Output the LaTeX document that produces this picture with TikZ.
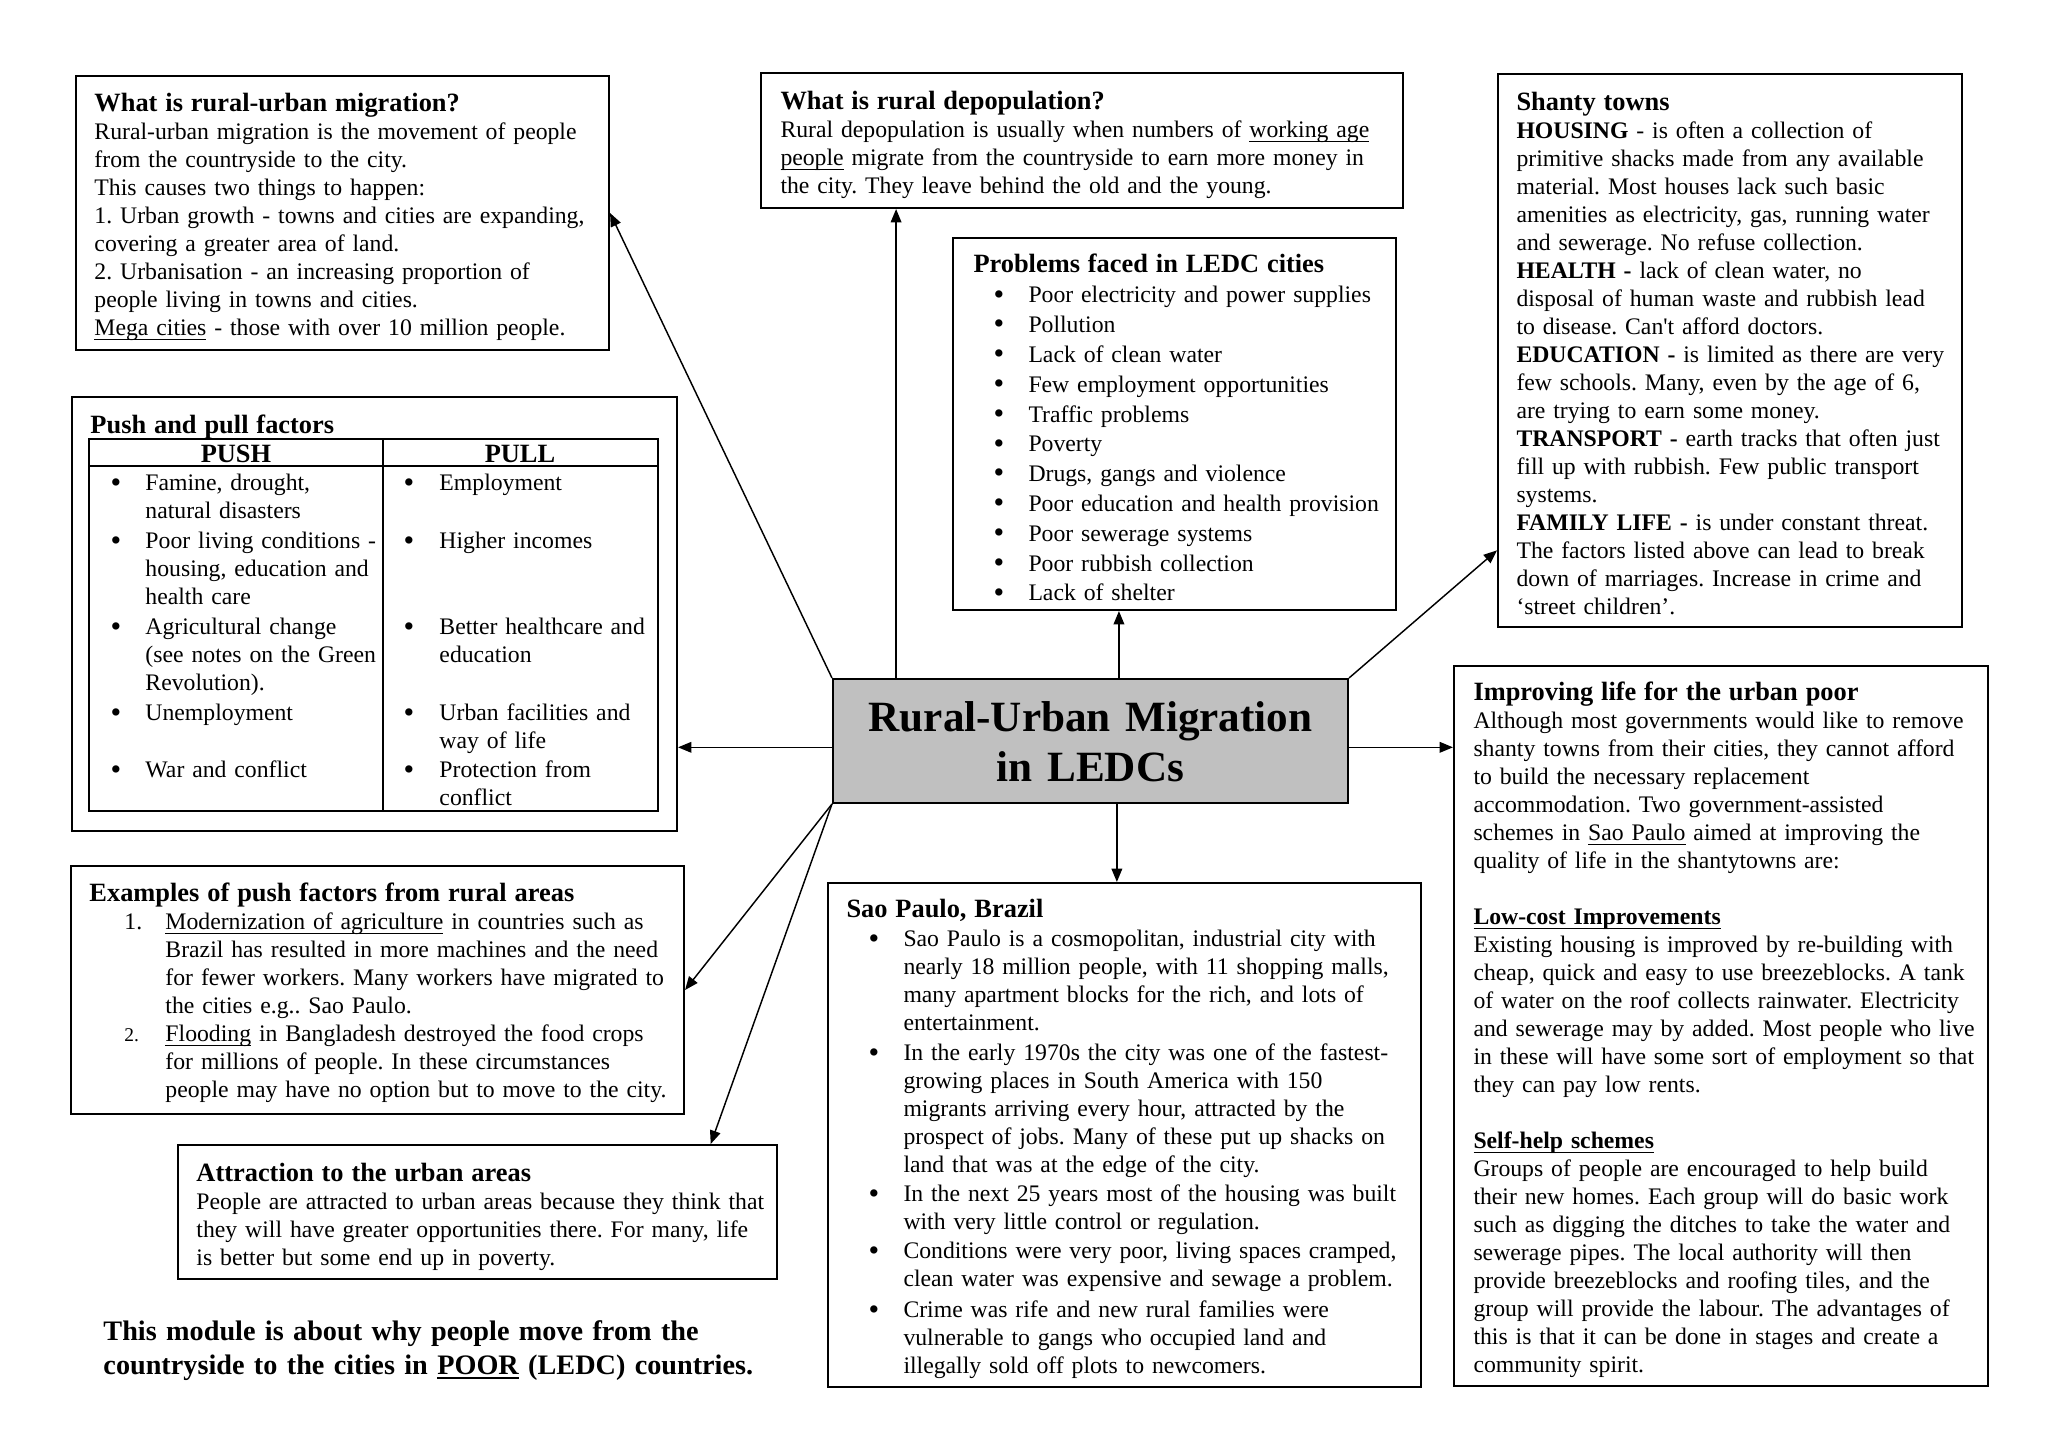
\documentclass[tikz,border=0pt]{standalone}
\usepackage{fontspec}
\setmainfont{Liberation Serif}
\usetikzlibrary{arrows.meta, calc, fit, positioning}
\definecolor{hubgray}{RGB}{192,192,192}
\frenchspacing
\newcommand\bodyfont{\fontsize{9.75}{11.51}\selectfont}
\newcommand\hdfont{\fontsize{10.85}{11.51}\selectfont\bfseries}
\newcommand\uln[2][0.45pt]{\leavevmode\begingroup\setbox0\hbox{#2}\rlap{\rule[-1.6pt]{\wd0}{#1}}\box0\endgroup}
\newcommand\blt{\raisebox{-0.5pt}{\fontsize{12.5}{12.5}\selectfont\textbullet}}

\begin{document}
\begin{tikzpicture}[x=0.41113pt, y=-0.41113pt, >={Triangle[length=5.5pt,width=4.4pt]},
  card/.style={draw, line width=0.85pt, inner sep=0pt},
  txt/.style={anchor=base west, inner sep=0pt, yshift=-1.2pt, align=left, text width=9cm, font=\bodyfont},
  bul/.style={anchor=base, inner sep=0pt, yshift=-1.2pt, font=\bodyfont},
  arr/.style={->, line width=0.6pt}]

  \path[use as bounding box, fill=white] (0,0) rectangle (2048,1448);

  % boxes
  \node[card, fit={(76,76) (609,350)}]     (ruq)    {};
  \node[card, fit={(761,73) (1403,208)}]   (depop)  {};
  \node[card, fit={(1498,74) (1962,627)}]  (shanty) {};
  \node[card, fit={(72,397) (677,831)}]    (pushpull) {};
  \node[card, fit={(953,238) (1396,610)}]  (prob)   {};
  \node[card, fill=hubgray, fit={(833,679) (1348,803)}] (hub) {};
  \node[card, fit={(1454,666) (1988,1386)}] (improve) {};
  \node[card, fit={(71,866) (684,1114)}]   (examples) {};
  \node[card, fit={(828,883) (1421,1387)}] (sao)    {};
  \node[card, fit={(178,1145) (777,1279)}] (attract) {};

  % centre title
  \node[anchor=base, inner sep=0pt, align=center, text width=205pt,
        font=\fontsize{17.75}{20.7}\selectfont\bfseries] (hubtxt) at (1090.5,731)
    {Rural-Urban Migration\\in LEDCs};

  % what is rural-urban migration
  \node[txt] (ruqtxt) at (94,109) {{\hdfont What is rural-urban migration?}\\
    Rural-urban migration is the movement of people\\
    from the countryside to the city.\\
    This causes two things to happen:\\
    1. Urban growth - towns and cities are expanding,\\
    covering a greater area of land.\\
    2. Urbanisation - an increasing proportion of\\
    people living in towns and cities.\\
    \uln{Mega cities} - those with over 10 million people.};

  % rural depopulation
  \node[txt] (depoptxt) at (780,107) {{\hdfont What is rural depopulation?}\\
    Rural depopulation is usually when numbers of \uln{working age}\\
    \uln{people} migrate from the countryside to earn more money in\\
    the city. They leave behind the old and the young.};

  % shanty towns
  \node[txt] (shantytxt) at (1516,108) {{\hdfont Shanty towns}\\
    \textbf{HOUSING} - is often a collection of\\
    primitive shacks made from any available\\
    material. Most houses lack such basic\\
    amenities as electricity, gas, running water\\
    and sewerage. No refuse collection.\\
    \textbf{HEALTH -} lack of clean water, no\\
    disposal of human waste and rubbish lead\\
    to disease. Can\textquotesingle t afford doctors.\\
    \textbf{EDUCATION -} is limited as there are very\\
    few schools. Many, even by the age of 6,\\
    are trying to earn some money.\\
    \textbf{TRANSPORT -} earth tracks that often just\\
    fill up with rubbish. Few public transport\\
    systems.\\
    \textbf{FAMILY LIFE -} is under constant threat.\\
    The factors listed above can lead to break\\
    down of marriages. Increase in crime and\\
    ‘street children’.};

  % push and pull table
  \node[txt] (pphead) at (90,431) {\hdfont Push and pull factors};
  \draw[line width=0.5pt] (89,439) rectangle (658,811);
  \draw[line width=0.5pt] (89,466) -- (658,466) (383,439) -- (383,811);
  \node[anchor=base, inner sep=0pt, font=\hdfont] (pushhd) at (236,462) {PUSH};
  \node[anchor=base, inner sep=0pt, font=\hdfont] (pullhd) at (520,462) {PULL};
  \foreach \y/\t [count=\i] in {488/{Famine, drought,\\natural disasters},
      546/{Poor living conditions -\\housing, education and\\health care},
      632/{Agricultural change\\(see notes on the Green\\Revolution).},
      718/Unemployment, 775/War and conflict} {
    \node[bul] (pushb\i) at (116,\y) {\blt};
    \node[txt] (push\i) at (145,\y) {\t};
  }
  \foreach \y/\t [count=\i] in {488/Employment, 546/Higher incomes,
      632/{Better healthcare and\\education}, 718/{Urban facilities and\\way of life},
      775/{Protection from\\conflict}} {
    \node[bul] (pullb\i) at (409,\y) {\blt};
    \node[txt] (pull\i) at (439,\y) {\t};
  }

  % problems in LEDC cities
  \node[txt] (probhead) at (973,270) {\hdfont Problems faced in LEDC cities};
  \foreach \t [count=\i from 0] in {Poor electricity and power supplies, Pollution,
      Lack of clean water, Few employment opportunities, Traffic problems, Poverty,
      {Drugs, gangs and violence}, Poor education and health provision,
      Poor sewerage systems, Poor rubbish collection, Lack of shelter} {
    \node[bul] (probb\i) at (999,300+29.8*\i) {\blt};
    \node[txt] (probt\i) at (1028,300+29.8*\i) {\t};
  }

  % improving life
  \node[txt] (improvetxt) at (1473,698) {{\hdfont Improving life for the urban poor}\\
    Although most governments would like to remove\\
    shanty towns from their cities, they cannot afford\\
    to build the necessary replacement\\
    accommodation. Two government-assisted\\
    schemes in \uln{Sao Paulo} aimed at improving the\\
    quality of life in the shantytowns are:\\
    \mbox{}\\
    \uln{\textbf{Low-cost Improvements}}\\
    Existing housing is improved by re-building with\\
    cheap, quick and easy to use breezeblocks. A tank\\
    of water on the roof collects rainwater. Electricity\\
    and sewerage may by added. Most people who live\\
    in these will have some sort of employment so that\\
    they can pay low rents.\\
    \mbox{}\\
    \uln{\textbf{Self-help schemes}}\\
    Groups of people are encouraged to help build\\
    their new homes. Each group will do basic work\\
    such as digging the ditches to take the water and\\
    sewerage pipes. The local authority will then\\
    provide breezeblocks and roofing tiles, and the\\
    group will provide the labour. The advantages of\\
    this is that it can be done in stages and create a\\
    community spirit.};

  % examples of push factors
  \node[txt] (exhead) at (89,899) {\hdfont Examples of push factors from rural areas};
  \node[txt] (exn1) at (124,927) {1.};
  \node[txt] (ex1) at (165,927) {\uln{Modernization of agriculture} in countries such as\\
    Brazil has resulted in more machines and the need\\
    for fewer workers. Many workers have migrated to\\
    the cities e.g.. Sao Paulo.};
  \node[txt, font=\fontsize{8}{9}\selectfont] (exn2) at (124,1039) {2.};
  \node[txt] (ex2) at (165,1039) {\uln{Flooding} in Bangladesh destroyed the food crops\\
    for millions of people. In these circumstances\\
    people may have no option but to move to the city.};

  % sao paulo
  \node[txt] (saohead) at (846,915) {\hdfont Sao Paulo, Brazil};
  \foreach \y/\t [count=\i] in {
      944/{Sao Paulo is a cosmopolitan, industrial city with\\nearly 18 million people, with 11 shopping malls,\\many apartment blocks for the rich, and lots of\\entertainment.},
      1058/{In the early 1970s the city was one of the fastest-\\growing places in South America with 150\\migrants arriving every hour, attracted by the\\prospect of jobs. Many of these put up shacks on\\land that was at the edge of the city.},
      1199/{In the next 25 years most of the housing was built\\with very little control or regulation.},
      1256/{Conditions were very poor, living spaces cramped,\\clean water was expensive and sewage a problem.},
      1315/{Crime was rife and new rural families were\\vulnerable to gangs who occupied land and\\illegally sold off plots to newcomers.}} {
    \node[bul] (saob\i) at (874,\y) {\blt};
    \node[txt] (sao\i) at (903,\y) {\t};
  }

  % attraction
  \node[txt] (attracttxt) at (196,1179) {{\hdfont Attraction to the urban areas}\\
    People are attracted to urban areas because they think that\\
    they will have greater opportunities there. For many, life\\
    is better but some end up in poverty.};

  % module note
  \node[txt, text width=14cm, font=\fontsize{11.6}{13.98}\selectfont\bfseries] (note) at (103,1338)
    {This module is about why people move from the\\
    countryside to the cities in \uln[0.7pt]{POOR} (LEDC) countries.};

  % connectors
  \coordinate (upA) at ($(hub.north west)!0.124!(hub.north east)$);
  \coordinate (upB) at ($(hub.north west)!0.555!(hub.north east)$);
  \coordinate (dnA) at ($(hub.south west)!0.551!(hub.south east)$);
  \coordinate (lfA) at ($(hub.north west)!0.55!(hub.south west)$);
  \coordinate (rtA) at ($(hub.north east)!0.55!(hub.south east)$);
  \draw[arr] (hub.north west) -- (ruq.east);
  \draw[arr] (upA) -- (upA |- depop.south);
  \draw[arr] (upB) -- (upB |- prob.south);
  \draw[arr] (hub.north east) -- ($(shanty.north west)!0.86!(shanty.south west)$);
  \draw[arr] (rtA) -- (rtA -| improve.west);
  \draw[arr] (dnA) -- (dnA |- sao.north);
  \draw[arr] (lfA) -- (lfA -| pushpull.east);
  \draw[arr] (hub.south west) -- (examples.east);
  \draw[arr] (hub.south west) -- ($(attract.north west)!0.888!(attract.north east)$);

\end{tikzpicture}
\end{document}
